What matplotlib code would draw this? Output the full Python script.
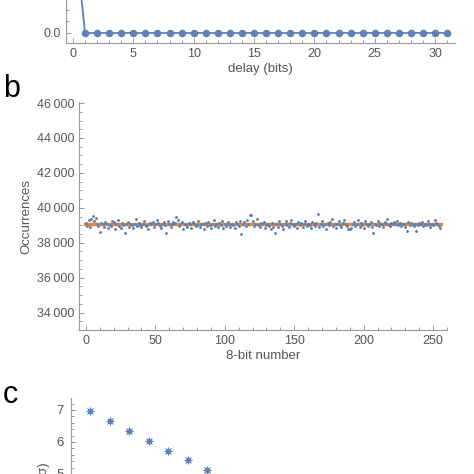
import numpy as np
import matplotlib
matplotlib.use("Agg")
import matplotlib.pyplot as plt
from matplotlib.ticker import MultipleLocator, FuncFormatter

plt.rcParams['font.family'] = ['Liberation Sans', 'DejaVu Sans']

BLUE = '#5E81B5'
ORANGE = '#EE8232'
GRAY = '#999999'
TXT = '#555555'

# ---- panel a data ----
delay = list(range(0, 32))
autocorr = [1.0] + [0.0] * 31

# ---- panel b data ----
occurrences = [
    39150, 38950, 39300, 38900, 39350, 39540, 39250, 39400, 39100, 38950, 38640, 39150, 39050, 38900, 39200, 39100,
    38850, 39000, 38950, 39250, 39200, 38800, 39100, 39300, 38950, 38850, 39150, 39000, 38580, 39050, 39200, 38900,
    39100, 39000, 38850, 39050, 39350, 38950, 39150, 39000, 38900, 39100, 39250, 38950, 39000, 38800, 39150, 39050,
    39200, 38900, 39050, 39300, 39150, 38950, 38850, 39100, 39200, 39000, 38580, 39250, 39100, 38900, 39050, 39200,
    39150, 39480, 39300, 38950, 39050, 39200, 38800, 39100, 39000, 38900, 39150, 39050, 38850, 39200, 39100, 38950,
    39000, 39250, 38900, 39100, 39050, 38800, 39150, 38950, 39200, 39000, 38850, 39100, 39300, 38950, 39050, 38900,
    39150, 39000, 39250, 38850, 39100, 38950, 39200, 39050, 38900, 39100, 39000, 38850, 39200, 39100, 38950, 39250,
    38520, 39050, 39200, 38950, 39300, 39100, 39580, 39600, 39250, 38950, 39100, 39350, 39000, 38900, 39150, 39050,
    39200, 38850, 39000, 39100, 38950, 38800, 39150, 38900, 38560, 39050, 38900, 39250, 39100, 38950, 38800, 39100,
    39250, 39000, 38900, 39150, 39300, 39050, 38950, 39100, 38850, 39200, 39000, 39150, 38900, 39050, 39250, 38950,
    39100, 39000, 38850, 39200, 39050, 38950, 39150, 39650, 38900, 39100, 39250, 38950, 39050, 38800, 39150, 39000,
    39200, 39350, 38950, 39100, 38850, 39050, 39250, 39000, 38900, 39150, 39300, 39050, 38950, 38800, 38800, 38850,
    39100, 39200, 38950, 39050, 39300, 38900, 39150, 39000, 38850, 39250, 39100, 38950, 39050, 39200, 38900, 38560,
    39100, 39000, 39250, 38950, 39150, 39050, 38900, 39200, 39100, 39350, 39000, 38950, 39150, 39050, 39200, 39100,
    39250, 39000, 39150, 38950, 39050, 39100, 38900, 38650, 39200, 39000, 39150, 39050, 38950, 39100, 38650, 39000,
    39150, 39050, 39200, 38950, 39100, 39000, 39250, 39050, 38900, 39100, 39000, 39300, 39150, 39050, 38950, 38850,
]
numbers = list(range(256))
expected_x = [-1, 256]
expected_y = [39062.5, 39062.5]

# ---- panel c data ----
c_x = [1, 2, 3, 4, 5, 6, 7]
c_y = [6.96, 6.66, 6.35, 6.04, 5.73, 5.43, 5.12]

W = H = 474
fig = plt.figure(figsize=(4.74, 4.74), dpi=100)


def px_axes(left, top, right, bottom):
    return fig.add_axes([left / W, 1 - bottom / H, (right - left) / W, (bottom - top) / H])


def style(ax):
    for s in ['top', 'right']:
        ax.spines[s].set_visible(False)
    for s in ['left', 'bottom']:
        ax.spines[s].set_color(GRAY)
        ax.spines[s].set_linewidth(0.8)
    ax.tick_params(which='both', direction='in', color=GRAY, labelcolor=TXT,
                   labelsize=9, width=0.7, pad=3.5)
    ax.tick_params(which='major', length=3.5)
    ax.tick_params(which='minor', length=2)
    ax.set_facecolor('none')


# panel a
axa = px_axes(66, -88, 455, 43)
axa.plot(delay, autocorr, '-o', color=BLUE, lw=1.3, ms=4.4, clip_on=False)
axa.set_xlim(-0.58, 31.65)
axa.set_ylim(-0.087, 1.05)
axa.xaxis.set_major_locator(MultipleLocator(5))
axa.xaxis.set_minor_locator(MultipleLocator(1))
axa.yaxis.set_major_locator(MultipleLocator(0.5))
axa.yaxis.set_minor_locator(MultipleLocator(0.1))
# only the 0.0 label falls inside the visible crop
axa.yaxis.set_major_formatter(FuncFormatter(lambda v, p: f"{v:.1f}" if abs(v) < 0.25 else ""))
style(axa)
axa.set_xlabel('delay (bits)', color=TXT, fontsize=9.5, labelpad=2)

# panel b
axb = px_axes(79, 102, 447, 330)
axb.plot(expected_x, expected_y, '-', color=ORANGE, lw=2.4, zorder=1)
axb.plot(numbers, occurrences, 'o', color=BLUE, ms=2.1, mew=0, zorder=2)
axb.set_xlim(-5, 260)
axb.set_ylim(33000, 46060)
axb.xaxis.set_major_locator(MultipleLocator(50))
axb.xaxis.set_minor_locator(MultipleLocator(10))
axb.yaxis.set_major_locator(MultipleLocator(2000))
axb.yaxis.set_minor_locator(MultipleLocator(500))
axb.yaxis.set_major_formatter(FuncFormatter(lambda v, p: f"{int(v)//1000}\u2009{int(v)%1000:03d}"))
style(axb)
axb.set_xlabel('8-bit number', color=TXT, fontsize=9.5, labelpad=2)
axb.set_ylabel('Occurrences', color=TXT, fontsize=9.5, labelpad=3)

# panel c
axc = px_axes(71, 398, 447, 542)
axc.plot(c_x, c_y, linestyle='none', marker=(8, 1, 0), color=BLUE, ms=7, mew=0)
axc.set_xlim(0, 19.3)
axc.set_ylim(2.875, 7.375)
axc.yaxis.set_major_locator(MultipleLocator(1))
axc.yaxis.set_minor_locator(MultipleLocator(0.2))
axc.xaxis.set_major_locator(MultipleLocator(5))
axc.yaxis.set_major_formatter(FuncFormatter(lambda v, p: f"{v:.0f}" if v > 4.5 else ""))
style(axc)
axc.tick_params(labelsize=9.5, pad=5)
axc.tick_params(axis='x', labelbottom=False)  # bottom axis lies outside the crop
fig.text(43 / W, 1 - 461 / H, 'log(σ)', rotation=90, ha='center', va='top',
         color=TXT, fontsize=9.5)

# panel labels
fig.text(3 / W, 1 - 97 / H, 'b', fontsize=22, color='black', ha='left', va='baseline')
fig.text(3 / W, 1 - 403 / H, 'c', fontsize=22, color='black', ha='left', va='baseline')

fig.savefig('out.png', dpi=100)
